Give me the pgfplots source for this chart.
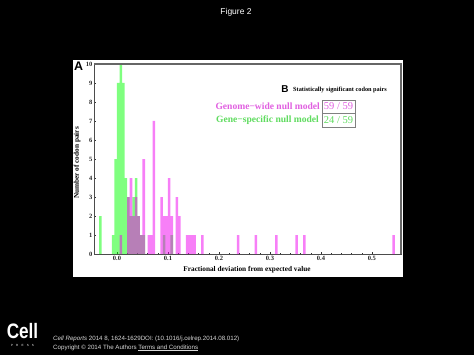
\documentclass[border=0pt]{standalone}
\usepackage{fontspec}
\setmainfont{Liberation Serif}
\newfontfamily\sans{Liberation Sans}
\usepackage{pgfplots}
\pgfplotsset{compat=1.18}
\usepackage{pgfplotstable}
\definecolor{pinktext}{RGB}{225,95,225}
\definecolor{greentext}{RGB}{95,220,95}
\definecolor{mgreen}{RGB}{0,255,0}
\definecolor{mpink}{RGB}{240,0,240}

% bin centres (bin width 0.005) and counts
\pgfplotstableread{
x y
0.0075 1
0.0225 3
0.0275 4
0.0325 2
0.0375 3
0.0425 2
0.0475 1
0.0525 5
0.0625 1
0.0675 1
0.0725 7
0.0875 3
0.0925 2
0.0975 2
0.1025 4
0.1075 2
0.1175 3
0.1225 2
0.1375 1
0.1425 1
0.1475 1
0.1525 1
0.1675 1
0.2375 1
0.2725 1
0.3125 1
0.3525 1
0.3675 1
0.5425 1
}\pinkdata

\pgfplotstableread{
x y
-0.0325 2
-0.0075 1
-0.0025 5
0.0025 9
0.0075 10
0.0125 9
0.0175 4
0.0225 3
0.0275 2
0.0325 3
0.0375 4
0.0425 2
0.0475 1
0.0525 1
0.0925 1
0.1075 1
}\greendata

\begin{document}
\begin{tikzpicture}[x=1bp,y=1bp]
\fill[black] (0,0) rectangle (474,355);
\useasboundingbox (0,0) rectangle (474,355);
\fill[white] (73,78) rectangle (403,295);

\begin{axis}[
  at={(94bp,101bp)}, anchor=south west,
  scale only axis, width=307bp, height=190bp,
  xmin=-0.045, xmax=0.557, ymin=0, ymax=10,
  ytick={0,1,2,3,4,5,6,7,8,9,10},
  xtick={0,0.1,0.2,0.3,0.4,0.5},
  xticklabels={0.0,0.1,0.2,0.3,0.4,0.5},
  minor x tick num=4,
  xtick pos=bottom, ytick pos=left,
  tick align=inside,
  major tick length=2.2bp, minor tick length=1.3bp,
  tick style={gray!40!black, line width=0.3pt},
  axis line style={gray!60!black, line width=0.4pt},
  /pgf/number format/assume math mode=true,
  ticklabel style={font=\bfseries\fontsize{6.5}{7}\selectfont, text=black!85},
  xticklabel style={inner sep=1.5bp},
  yticklabel style={inner sep=1.5bp},
  clip=false,
]
\addplot[ybar, bar width=0.005, bar shift=0pt, fill=mgreen, fill opacity=0.5, draw=none] table {\greendata};
\addplot[ybar, bar width=0.005, bar shift=0pt, fill=mpink, fill opacity=0.5, draw=none] table {\pinkdata};
\draw[gray!80!black, line width=1.3pt] (rel axis cs:0,1) -- (rel axis cs:1,1) -- (rel axis cs:1,0);
\end{axis}

% axis labels
\node[rotate=90, font=\bfseries\fontsize{7.3}{8}\selectfont] at (77,192) {Number of codon pairs};
\node[font=\bfseries\fontsize{7.3}{8}\selectfont] at (247,85) {Fractional deviation from expected value};

% panel letters
\node[font=\sans\bfseries\fontsize{12.5}{14}\selectfont, inner sep=0] at (78.5,288.5) {A};
\node[font=\sans\bfseries\fontsize{10}{12}\selectfont, inner sep=0] at (285,265.5) {B};
\node[anchor=west, font=\bfseries\fontsize{6.3}{7}\selectfont, inner sep=0] at (293,265.5) {Statistically significant codon pairs};

% legend table
\node[anchor=east, text=pinktext, font=\bfseries\fontsize{9.6}{12}\selectfont, inner sep=0] at (320,249) {Genome−wide null model};
\node[anchor=east, text=greentext, font=\bfseries\fontsize{9.6}{12}\selectfont, inner sep=0] at (319,234.5) {Gene−specific null model};
\draw[gray, line width=0.5pt] (322,228) rectangle (355,255);
\draw[gray, line width=0.5pt] (322,242) -- (355,242);
\node[text=pinktext, font=\fontsize{10.5}{12}\selectfont, inner sep=0] at (338.5,248.5) {59 / 59};
\node[text=greentext, font=\fontsize{10.5}{12}\selectfont, inner sep=0] at (338.5,234.5) {24 / 59};

% page furniture
\node[text=white, font=\sans\fontsize{8.5}{10}\selectfont] at (236,342.5) {Figure 2};
\node[text=white, font=\sans\bfseries\fontsize{21}{24}\selectfont, xscale=0.82, inner sep=0] at (22.5,23.5) {Cell};
\node[text=white, font=\sans\fontsize{3}{4}\selectfont, inner sep=0] at (22.5,10) {P\hspace{3.2pt}R\hspace{3.2pt}E\hspace{3.2pt}S\hspace{3.2pt}S};
\node[anchor=west, text=white!85!black, font=\sans\fontsize{6.2}{7}\selectfont, inner sep=0] at (53,16) {\textit{Cell Reports} 2014 8, 1624-1629DOI: (10.1016/j.celrep.2014.08.012)};
\node[anchor=west, text=white!85!black, font=\sans\fontsize{6.2}{7}\selectfont, inner sep=0] at (53,7) {Copyright © 2014 The Authors \underline{Terms and Conditions}};
\end{tikzpicture}
\end{document}
